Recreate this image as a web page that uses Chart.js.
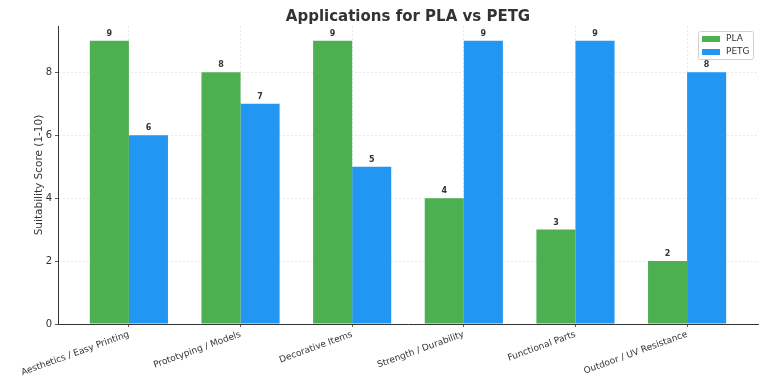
<!DOCTYPE html>
<html>
<head>
<meta charset="utf-8">
<script src="https://cdn.jsdelivr.net/npm/chart.js@4.4.0/dist/chart.umd.min.js"></script>
<style>
  html, body { margin: 0; padding: 0; background: #fff; }
  #wrap { width: 768px; height: 384px; }
</style>
</head>
<body>
<div id="wrap"><canvas id="chart"></canvas></div>
<script>
// Data
const categories = ['Aesthetics / Easy Printing', 'Prototyping / Models', 'Decorative Items',
  'Strength / Durability', 'Functional Parts', 'Outdoor / UV Resistance'];
const plaScores = [9, 8, 9, 4, 3, 2];
const petgScores = [6, 7, 5, 9, 9, 8];
const yTicks = [0, 2, 4, 6, 8];

const FONT = "'DejaVu Sans', sans-serif";
const TEXT = '#333';

// numbers over each bar
const barLabels = {
  id: 'barLabels',
  afterDatasetsDraw(chart) {
    const ctx = chart.ctx;
    ctx.save();
    ctx.font = 'bold 8px ' + FONT;
    ctx.fillStyle = TEXT;
    ctx.textAlign = 'center';
    ctx.textBaseline = 'bottom';
    chart.data.datasets.forEach((ds, i) => {
      chart.getDatasetMeta(i).data.forEach((bar, j) => {
        ctx.fillText(ds.data[j].y, bar.x, bar.y - 3);
      });
    });
    ctx.restore();
  }
};

// matplotlib style legend box, upper right inside the plot
const boxLegend = {
  id: 'boxLegend',
  afterDraw(chart) {
    const ctx = chart.ctx;
    const a = chart.chartArea;
    const w = 55, h = 28;
    const x = a.right - w - 5, y = a.top + 5;
    ctx.save();
    ctx.fillStyle = 'rgba(255,255,255,0.8)';
    ctx.strokeStyle = '#d0d0d0';
    ctx.lineWidth = 1;
    ctx.beginPath();
    ctx.roundRect(x + 0.5, y + 0.5, w, h, 2);
    ctx.fill();
    ctx.stroke();
    ctx.font = '9px ' + FONT;
    ctx.textBaseline = 'middle';
    chart.data.datasets.forEach((ds, i) => {
      const ry = y + 8 + i * 13;
      ctx.fillStyle = ds.backgroundColor;
      ctx.fillRect(x + 4, ry - 3, 18, 6);
      ctx.fillStyle = TEXT;
      ctx.fillText(ds.label, x + 28, ry);
    });
    ctx.restore();
  }
};

new Chart(document.getElementById('chart'), {
  type: 'bar',
  data: {
    datasets: [
      {
        label: 'PLA',
        data: plaScores.map((v, i) => ({ x: i, y: v })),
        backgroundColor: '#4CAF50'
      },
      {
        label: 'PETG',
        data: petgScores.map((v, i) => ({ x: i, y: v })),
        backgroundColor: '#2196F3'
      }
    ]
  },
  options: {
    responsive: true,
    maintainAspectRatio: false,
    animation: false,
    layout: { padding: { left: 0, right: 10, top: 0, bottom: 0 } },
    datasets: { bar: { categoryPercentage: 0.7, barPercentage: 1.0 } },
    plugins: {
      legend: { display: false },
      tooltip: { enabled: false },
      title: {
        display: true,
        text: 'Applications for PLA vs PETG',
        fullSize: false,
        color: TEXT,
        font: { family: FONT, size: 15, weight: 'bold' },
        padding: { top: 8, bottom: 0 }
      }
    },
    scales: {
      x: {
        type: 'linear',
        min: -0.635,
        max: 5.635,
        offset: false,
        afterBuildTicks: (s) => { s.ticks = categories.map((c, i) => ({ value: i })); },
        afterFit: (s) => { s.height = 60; },
        ticks: {
          autoSkip: false,
          minRotation: 20,
          maxRotation: 20,
          padding: 2,
          color: TEXT,
          font: { family: FONT, size: 9 },
          callback: (v) => categories[v]
        },
        grid: { offset: false, drawTicks: true, tickLength: 3, tickColor: '#333', color: '#e4e4e4', lineWidth: 0.8 },
        border: { display: true, color: '#333', width: 1, dash: [2, 2] }
      },
      y: {
        min: 0,
        max: 9.47,
        afterBuildTicks: (s) => { s.ticks = yTicks.map(v => ({ value: v })); },
        afterFit: (s) => { s.width = 58; },
        ticks: {
          padding: 3,
          color: TEXT,
          font: { family: FONT, size: 10 }
        },
        grid: { drawTicks: true, tickLength: 3, tickColor: '#333', color: '#e4e4e4', lineWidth: 0.8 },
        border: { display: true, color: '#333', width: 1, dash: [2, 2] },
        title: {
          display: true,
          text: 'Suitability Score (1-10)',
          color: TEXT,
          font: { family: FONT, size: 10.5 },
          padding: { top: 33, bottom: 0 }
        }
      }
    }
  },
  plugins: [barLabels, boxLegend]
});
</script>
</body>
</html>
